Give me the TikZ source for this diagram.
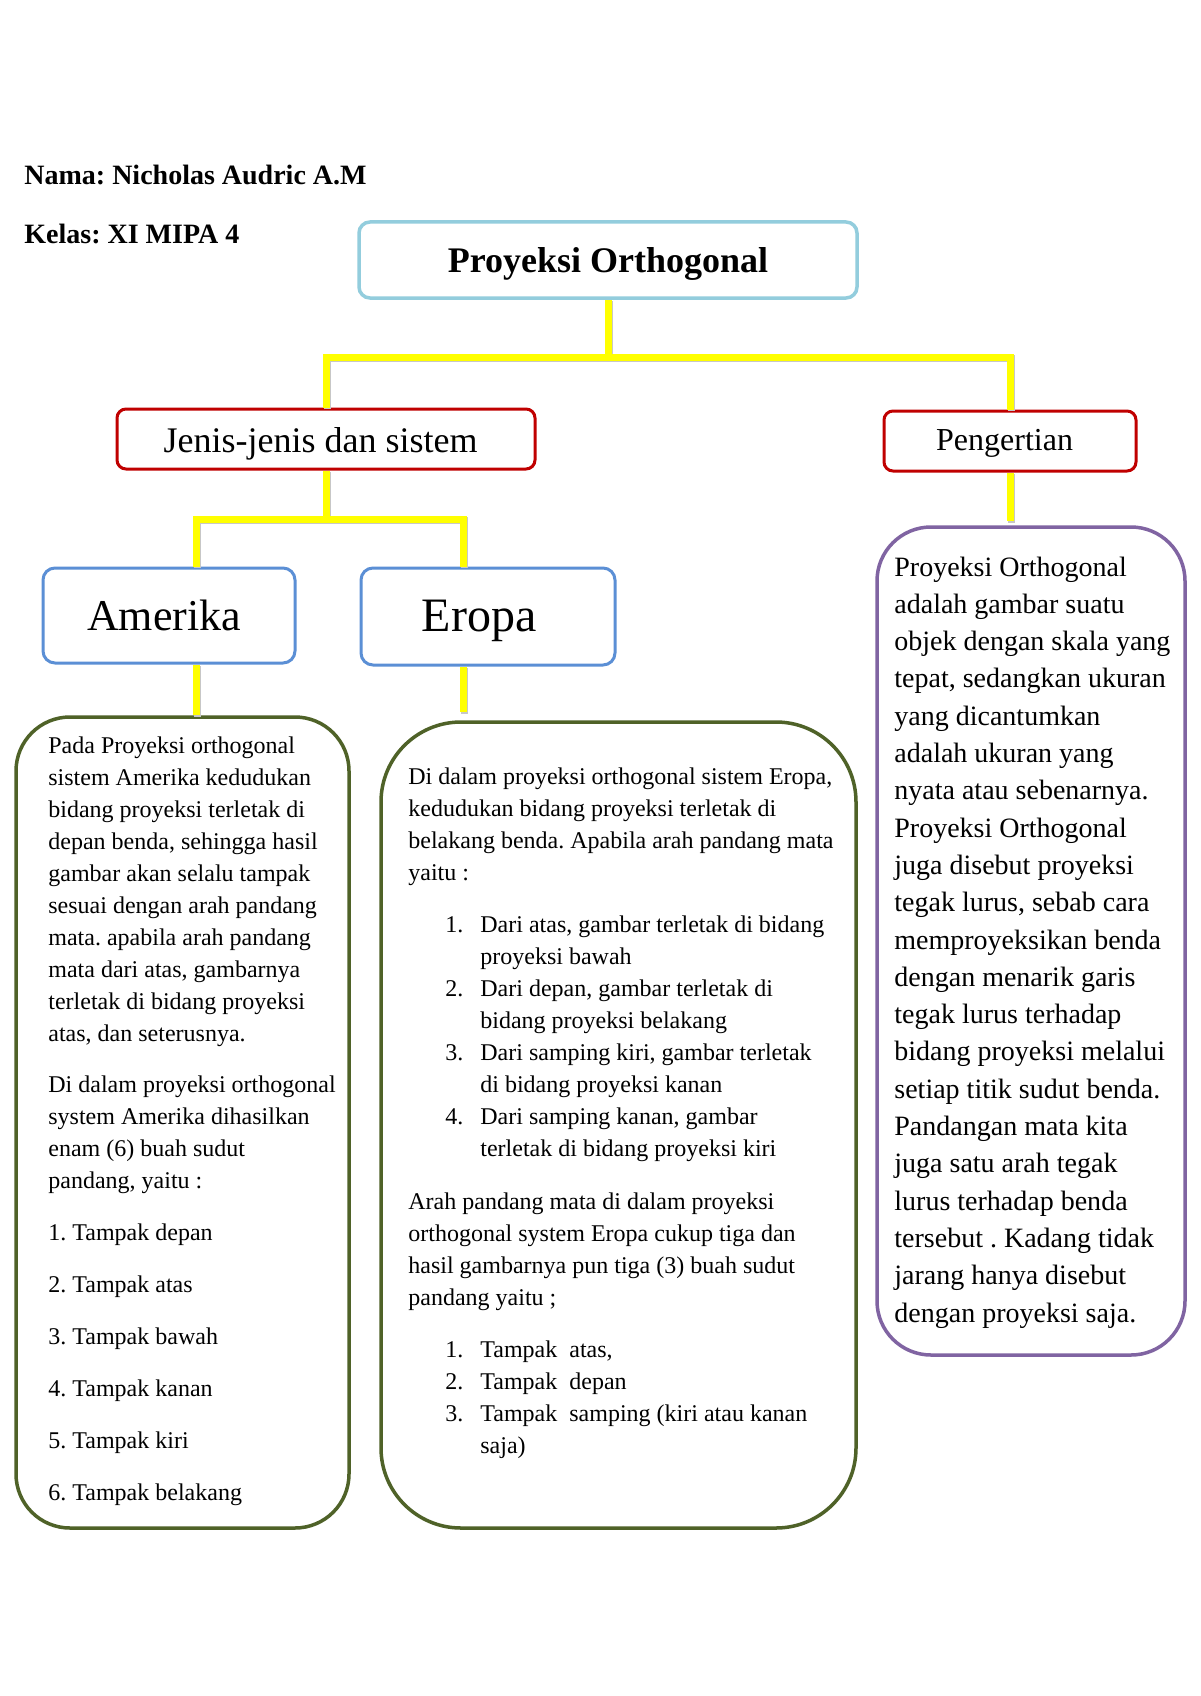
\documentclass[tikz,border=0pt]{standalone}
\usepackage{fontspec}
\setmainfont{Liberation Serif}
\usetikzlibrary{calc}
\definecolor{tblue}{HTML}{93CDDD}
\definecolor{tred}{HTML}{C00000}
\definecolor{tbl}{HTML}{5B8FD5}
\definecolor{tgreen}{HTML}{4F6228}
\definecolor{tpurple}{HTML}{8064A2}
\definecolor{tyellow}{HTML}{FFFF00}
\newcommand{\lowr}[2]{\raisebox{-#1}[\height][\depth]{#2}}
\begin{document}
\frenchspacing
\begin{tikzpicture}[x=0.5pt,y=-0.5pt,
  conn/.style={draw=tyellow, line width=3.5pt, line join=miter,
    preaction={draw=black!22, line width=3.5pt, transform canvas={shift={(0.8pt,-0.8pt)}}}},
  titlebox/.style={draw=tblue, line width=1.75pt, rounded corners=5.5pt, inner sep=0pt,
    minimum width=249pt, minimum height=38pt, font=\fontsize{18}{22}\selectfont\bfseries},
  redbox/.style={draw=tred, line width=1.5pt, rounded corners=4.5pt, inner sep=0pt,
    minimum height=30pt},
  bluebox/.style={draw=tbl, line width=1.5pt, rounded corners=6pt, inner sep=0pt},
  detbox/.style={line width=1.75pt, inner sep=0pt},
  bodytext/.style={inner sep=0pt, anchor=base west},
  hdr/.style={inner sep=0pt, anchor=base west, font=\fontsize{14}{17}\selectfont\bfseries}]
\useasboundingbox (0,0) rectangle (1200,1696);
\fill[white] (0,0) rectangle (1200,1696);

% header
\node[hdr] (nama) at (24,185) {Nama: Nicholas Audric A.M};
\node[hdr] (kelas) at (24,243) {Kelas: XI MIPA 4};

% main boxes
\node[titlebox] (t) at (608,260) {\lowr{2pt}{Proyeksi Orthogonal}};
\node[redbox, minimum width=209pt, font=\fontsize{18}{22}\selectfont] (j) at (326,439) {\lowr{2.6pt}{Jenis-jenis dan sistem}\hspace*{5.4pt}};
\node[redbox, minimum width=126pt, font=\fontsize{16}{20}\selectfont] (p) at (1010,441) {\lowr{1pt}{Pengertian}\hspace*{5.4pt}};
\node[bluebox, minimum width=126pt, minimum height=47.5pt, font=\fontsize{22}{26}\selectfont] (a) at (169,615.5) {Amerika\hspace*{5pt}};
\node[bluebox, minimum width=127pt, minimum height=48.5pt, font=\fontsize{24}{28}\selectfont] (e) at (488,616.5) {\lowr{2pt}{Eropa}\hspace*{9pt}};

% detail boxes
\node[detbox, draw=tgreen, rounded corners=27pt, minimum width=166.5pt, minimum height=405.5pt] (ad) at (182.5,1122.5) {};
\node[detbox, draw=tgreen, rounded corners=40pt, minimum width=237.5pt, minimum height=403pt] (ed) at (618.5,1125) {};
\node[detbox, draw=tpurple, rounded corners=27pt, minimum width=154pt, minimum height=414pt] (pd) at (1031,941) {};

% connectors
\coordinate (busA) at (608,357);
\coordinate (busB) at (325,519);
\draw[conn] (t.south) -- (t.south |- busA);
\draw[conn] (j.north) |- (p.north |- busA) -- (p.north);
\draw[conn] (j.south) -- (j.south |- busB);
\coordinate (aN) at ($(a.north)+(27,0)$);
\coordinate (eN) at ($(e.north)+(-25,0)$);
\draw[conn] (aN) |- (eN |- busB) -- (eN);
\coordinate (aS) at ($(a.south)+(27,0)$);
\coordinate (eS) at ($(e.south)+(-25,0)$);
\draw[conn] (aS) -- (aS |- ad.north);
\draw[conn, shorten >=4pt] (eS) -- (eS |- ed.north);
\draw[conn, shorten >=2pt] (p.south) -- (p.south |- pd.north);

% Amerika text
\node[bodytext, font=\fontsize{12}{16}\selectfont] (at) at (48,753) {%
\begin{tabular}[t]{@{}l@{}}
Pada Proyeksi orthogonal\\
sistem Amerika kedudukan\\
bidang proyeksi terletak di\\
depan benda, sehingga hasil\\
gambar akan selalu tampak\\
sesuai dengan arah pandang\\
mata. apabila arah pandang\\
mata dari atas, gambarnya\\
terletak di bidang proyeksi\\
atas, dan seterusnya.\\[9.5pt]
Di dalam proyeksi orthogonal\\
system Amerika dihasilkan\\
enam (6) buah sudut\\
pandang, yaitu :\\[10pt]
1. Tampak depan\\[10pt]
2. Tampak atas\\[10pt]
3. Tampak bawah\\[10pt]
4. Tampak kanan\\[10pt]
5. Tampak kiri\\[10pt]
6. Tampak belakang
\end{tabular}};

% Eropa text
\node[bodytext, font=\fontsize{12}{16}\selectfont] (et) at (408,784) {%
\begin{tabular}[t]{@{}l@{}}
Di dalam proyeksi orthogonal sistem Eropa,\\
kedudukan bidang proyeksi terletak di\\
belakang benda. Apabila arah pandang mata\\
yaitu :\\[10pt]
\hspace*{18.5pt}\makebox[17.5pt][l]{1.}Dari atas, gambar terletak di bidang\\
\hspace*{36pt}proyeksi bawah\\
\hspace*{18.5pt}\makebox[17.5pt][l]{2.}Dari depan, gambar terletak di\\
\hspace*{36pt}bidang proyeksi belakang\\
\hspace*{18.5pt}\makebox[17.5pt][l]{3.}Dari samping kiri, gambar terletak\\
\hspace*{36pt}di bidang proyeksi kanan\\
\hspace*{18.5pt}\makebox[17.5pt][l]{4.}Dari samping kanan, gambar\\
\hspace*{36pt}terletak di bidang proyeksi kiri\\[10.5pt]
Arah pandang mata di dalam proyeksi\\
orthogonal system Eropa cukup tiga dan\\
hasil gambarnya pun tiga (3) buah sudut\\
pandang yaitu ;\\[10pt]
\hspace*{18.5pt}\makebox[17.5pt][l]{1.}Tampak\ \ atas,\\
\hspace*{18.5pt}\makebox[17.5pt][l]{2.}Tampak\ \ depan\\
\hspace*{18.5pt}\makebox[17.5pt][l]{3.}Tampak\ \ samping (kiri atau kanan\\
\hspace*{36pt}saja)
\end{tabular}};

% Pengertian text
\node[bodytext, font=\fontsize{14}{18.65}\selectfont] (pt) at (894,576) {%
\begin{tabular}[t]{@{}l@{}}
Proyeksi Orthogonal\\
adalah gambar suatu\\
objek dengan skala yang\\
tepat, sedangkan ukuran\\
yang dicantumkan\\
adalah ukuran yang\\
nyata atau sebenarnya.\\
Proyeksi Orthogonal\\
juga disebut proyeksi\\
tegak lurus, sebab cara\\
memproyeksikan benda\\
dengan menarik garis\\
tegak lurus terhadap\\
bidang proyeksi melalui\\
setiap titik sudut benda.\\
Pandangan mata kita\\
juga satu arah tegak\\
lurus terhadap benda\\
tersebut . Kadang tidak\\
jarang hanya disebut\\
dengan proyeksi saja.
\end{tabular}};
\end{tikzpicture}
\end{document}
